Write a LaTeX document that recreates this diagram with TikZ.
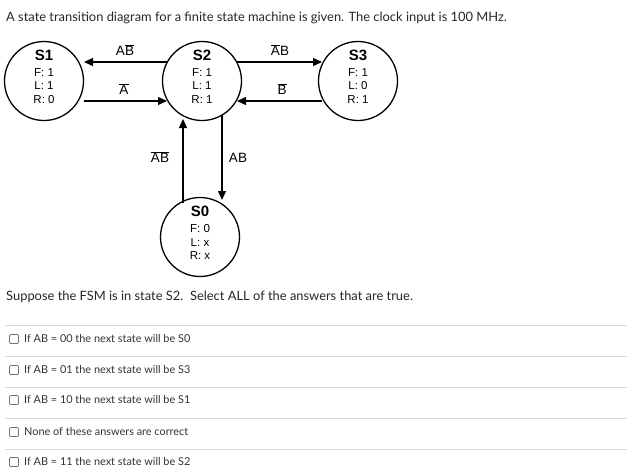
\documentclass[tikz,border=0pt]{standalone}
\usepackage{fontspec}
\setmainfont{Lato}
\newfontfamily\arial{Liberation Sans}
\usetikzlibrary{arrows.meta}
\newcommand{\ob}[1]{$\overline{\mbox{#1}}$}
\begin{document}
\begin{tikzpicture}[x=1pt,y=-1pt,
  st/.style={circle,draw,line width=1.3pt,minimum size=79pt,inner sep=0pt},
  hd/.style={font=\arial\bfseries\fontsize{15}{16}\selectfont},
  vl/.style={font=\arial\fontsize{11.5}{13.5}\selectfont,align=center},
  lb/.style={font=\arial\fontsize{13.5}{15}\selectfont},
  ar/.style={-{Triangle[length=9pt,width=8pt]},line width=1.3pt},
  tx/.style={font=\fontsize{12.9}{15}\selectfont,text=black!85,anchor=west,inner sep=0pt},
  op/.style={font=\fontsize{10.9}{12}\selectfont,text=black!80,anchor=west,inner sep=0pt},
  sep/.style={draw=black!15,line width=0.8pt},
  cb/.style={draw=black!55,rounded corners=1pt,minimum size=9pt,inner sep=0pt,line width=0.7pt}]
\path[use as bounding box] (0,0) rectangle (627,472);
\node[tx] (title) at (6,18) {A state transition diagram for a finite state machine is given. The clock input is 100 MHz.};
\node[st] (S1) at (44,81) {};
\node[st] (S2) at (202,81) {};
\node[st] (S3) at (358,81) {};
\node[st] (S0) at (200,237) {};
\foreach \n/\t/\a/\b/\c in {S1/S1/1/1/0,S2/S2/1/1/1,S3/S3/1/0/1,S0/S0/0/x/x}{
  \node[hd] (\n h) at ([yshift=26pt]\n.center) {\t};
  \node[vl] (\n v) at ([yshift=-5pt]\n.center) {F: \a\\L: \b\\R: \c};
}
\coordinate (a1) at (167,62); \coordinate (a1e) at (84,62);
\coordinate (b1) at (84,101); \coordinate (b1e) at (167,101);
\coordinate (a3) at (237,62); \coordinate (a3e) at (322,62);
\coordinate (b3) at (322,101); \coordinate (b3e) at (237,101);
\coordinate (u0) at (183,203); \coordinate (u0e) at (183,119);
\coordinate (d0) at (222,115); \coordinate (d0e) at (222,200);
\draw[ar] (a1) -- (a1e);
\draw[ar] (b1) -- (b1e);
\draw[ar] (a3) -- (a3e);
\draw[ar] (b3) -- (b3e);
\draw[ar] (u0) -- (u0e);
\draw[ar] (d0) -- (d0e);
\node[lb] (l1) at (125,50) {A\ob{B}};
\node[lb] (l2) at (124,89) {\ob{A}};
\node[lb] (l3) at (280,50) {\ob{A}B};
\node[lb] (l4) at (282,89) {\ob{B}};
\node[lb] (l5) at (160,157) {\ob{A}\ob{B}};
\node[lb] (l6) at (238,158) {AB};
\node[tx] (q) at (6,297) {Suppose the FSM is in state S2.\ \ Select ALL of the answers that are true.};
\foreach \y in {325,356,387,418,449} \draw[sep] (5,\y) -- (627,\y);
\foreach \i/\y/\t in {1/339/{If AB = 00 the next state will be S0},2/370/{If AB = 01 the next state will be S3},3/400/{If AB = 10 the next state will be S1},4/432/{None of these answers are correct},5/462/{If AB = 11 the next state will be S2}}{
  \node[cb] (c\i) at (14,\y) {};
  \node[op] (o\i) at (24,\y) {\t};
}
\end{tikzpicture}
\end{document}
